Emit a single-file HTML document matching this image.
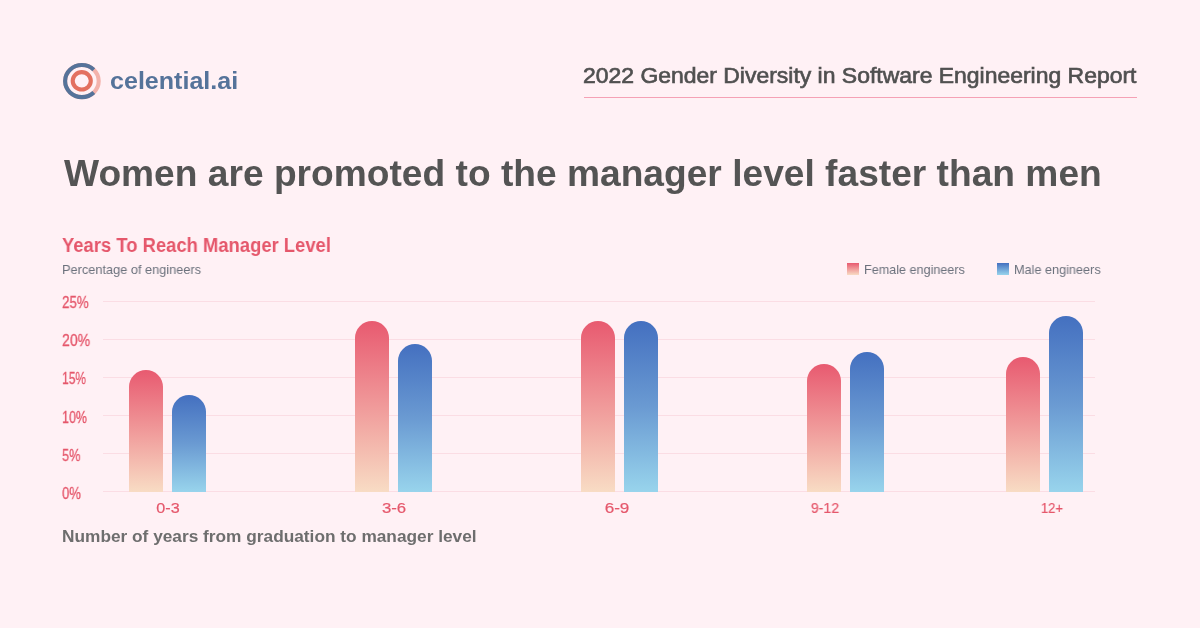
<!DOCTYPE html>
<html><head><meta charset="utf-8"><style>
html,body{margin:0;padding:0}
body{width:1200px;height:628px;background:#FFF1F5;position:relative;overflow:hidden;font-family:"Liberation Sans", sans-serif}
.t{will-change:transform}
</style></head><body>
<svg style="position:absolute;left:0;top:0" width="200" height="140" viewBox="0 0 200 140">
<ellipse cx="81.9" cy="81.05" rx="16.8" ry="16.05" fill="none" stroke="#F3B2AB" stroke-width="4.1"/>
<path d="M 93.78 69.7 A 16.8 16.05 0 1 0 93.78 92.4" fill="none" stroke="#55739A" stroke-width="4.1"/>
<ellipse cx="81.75" cy="80.85" rx="9.05" ry="8.7" fill="none" stroke="#E3705F" stroke-width="4.1"/>
</svg>
<div class="t" style="position:absolute;left:109.80px;top:70px;font-size:23px;line-height:23px;color:#55739A;font-weight:700;white-space:nowrap;transform:scaleX(1.0900);transform-origin:0 0;">celential.ai</div>
<div class="t" style="position:absolute;left:583.10px;top:65px;font-size:22px;line-height:22px;color:#505050;font-weight:400;white-space:nowrap;transform:scaleX(1.0428);transform-origin:0 0;-webkit-text-stroke:0.65px #505050;">2022 Gender Diversity in Software Engineering Report</div>
<div style="position:absolute;left:584px;top:97px;width:553px;height:1px;background:#F5A1B5"></div>
<div class="t" style="position:absolute;left:63.80px;top:155px;font-size:37px;line-height:37px;color:#545454;font-weight:700;white-space:nowrap;transform:scaleX(1.0041);transform-origin:0 0;">Women are promoted to the manager level faster than men</div>
<div class="t" style="position:absolute;left:61.80px;top:235px;font-size:20px;line-height:20px;color:#E5576B;font-weight:700;white-space:nowrap;transform:scaleX(0.9210);transform-origin:0 0;">Years To Reach Manager Level</div>
<div class="t" style="position:absolute;left:61.70px;top:263px;font-size:13.5px;line-height:13.5px;color:#6B717C;font-weight:400;white-space:nowrap;transform:scaleX(0.9460);transform-origin:0 0;">Percentage of engineers</div>
<div style="position:absolute;left:847px;top:263px;width:12px;height:12px;background:linear-gradient(#E85A70,#F8DCC4)"></div>
<div class="t" style="position:absolute;left:864.20px;top:263px;font-size:13px;line-height:13px;color:#6B717C;font-weight:400;white-space:nowrap;transform:scaleX(0.9690);transform-origin:0 0;">Female engineers</div>
<div style="position:absolute;left:997px;top:263px;width:12px;height:12px;background:linear-gradient(#4470C0,#98D4EC)"></div>
<div class="t" style="position:absolute;left:1014.20px;top:263px;font-size:13px;line-height:13px;color:#6B717C;font-weight:400;white-space:nowrap;transform:scaleX(0.9750);transform-origin:0 0;">Male engineers</div>
<div style="position:absolute;left:103px;top:301px;width:992px;height:1px;background:#FBDDE4"></div>
<div class="t" style="position:absolute;left:62.00px;top:295px;font-size:16px;line-height:16px;color:#E5576B;font-weight:400;white-space:nowrap;transform:scaleX(0.8320);transform-origin:0 0;-webkit-text-stroke:0.3px #E5576B;">25%</div>
<div style="position:absolute;left:103px;top:339px;width:992px;height:1px;background:#FBDDE4"></div>
<div class="t" style="position:absolute;left:62.00px;top:333px;font-size:16px;line-height:16px;color:#E5576B;font-weight:400;white-space:nowrap;transform:scaleX(0.8800);transform-origin:0 0;-webkit-text-stroke:0.3px #E5576B;">20%</div>
<div style="position:absolute;left:103px;top:377px;width:992px;height:1px;background:#FBDDE4"></div>
<div class="t" style="position:absolute;left:62.00px;top:371px;font-size:16px;line-height:16px;color:#E5576B;font-weight:400;white-space:nowrap;transform:scaleX(0.7500);transform-origin:0 0;-webkit-text-stroke:0.3px #E5576B;">15%</div>
<div style="position:absolute;left:103px;top:415px;width:992px;height:1px;background:#FBDDE4"></div>
<div class="t" style="position:absolute;left:62.00px;top:410px;font-size:16px;line-height:16px;color:#E5576B;font-weight:400;white-space:nowrap;transform:scaleX(0.7800);transform-origin:0 0;-webkit-text-stroke:0.3px #E5576B;">10%</div>
<div style="position:absolute;left:103px;top:453px;width:992px;height:1px;background:#FBDDE4"></div>
<div class="t" style="position:absolute;left:62.00px;top:448px;font-size:16px;line-height:16px;color:#E5576B;font-weight:400;white-space:nowrap;transform:scaleX(0.7950);transform-origin:0 0;-webkit-text-stroke:0.3px #E5576B;">5%</div>
<div style="position:absolute;left:103px;top:491px;width:992px;height:1px;background:#FBDDE4"></div>
<div class="t" style="position:absolute;left:62.00px;top:486px;font-size:16px;line-height:16px;color:#E5576B;font-weight:400;white-space:nowrap;transform:scaleX(0.8130);transform-origin:0 0;-webkit-text-stroke:0.3px #E5576B;">0%</div>
<div style="position:absolute;left:129.1px;top:369.8px;width:34.2px;height:121.80px;border-radius:17.1px 17.1px 0 0;background:linear-gradient(#E85A70,#F09A9A 50%,#F8DCC4)"></div>
<div style="position:absolute;left:171.9px;top:394.9px;width:34.2px;height:96.70px;border-radius:17.1px 17.1px 0 0;background:linear-gradient(#4470C0,#6A9AD2 50%,#98D4EC)"></div>
<div style="position:absolute;left:355.0px;top:321.0px;width:34.2px;height:170.60px;border-radius:17.1px 17.1px 0 0;background:linear-gradient(#E85A70,#F09A9A 50%,#F8DCC4)"></div>
<div style="position:absolute;left:398.0px;top:344.2px;width:34.2px;height:147.40px;border-radius:17.1px 17.1px 0 0;background:linear-gradient(#4470C0,#6A9AD2 50%,#98D4EC)"></div>
<div style="position:absolute;left:580.8px;top:321.0px;width:34.2px;height:170.60px;border-radius:17.1px 17.1px 0 0;background:linear-gradient(#E85A70,#F09A9A 50%,#F8DCC4)"></div>
<div style="position:absolute;left:624.0px;top:320.8px;width:34.2px;height:170.80px;border-radius:17.1px 17.1px 0 0;background:linear-gradient(#4470C0,#6A9AD2 50%,#98D4EC)"></div>
<div style="position:absolute;left:806.9px;top:363.7px;width:34.2px;height:127.90px;border-radius:17.1px 17.1px 0 0;background:linear-gradient(#E85A70,#F09A9A 50%,#F8DCC4)"></div>
<div style="position:absolute;left:849.9px;top:352.4px;width:34.2px;height:139.20px;border-radius:17.1px 17.1px 0 0;background:linear-gradient(#4470C0,#6A9AD2 50%,#98D4EC)"></div>
<div style="position:absolute;left:1006.0px;top:356.5px;width:34.2px;height:135.10px;border-radius:17.1px 17.1px 0 0;background:linear-gradient(#E85A70,#F09A9A 50%,#F8DCC4)"></div>
<div style="position:absolute;left:1049.1px;top:315.7px;width:34.2px;height:175.90px;border-radius:17.1px 17.1px 0 0;background:linear-gradient(#4470C0,#6A9AD2 50%,#98D4EC)"></div>
<div class="t" style="position:absolute;left:68.10px;width:200px;text-align:center;top:500px;font-size:15px;line-height:15px;color:#E5576B;font-weight:400;white-space:nowrap;transform:scaleX(1.0770);transform-origin:50% 0;-webkit-text-stroke:0.2px #E5576B;">0-3</div>
<div class="t" style="position:absolute;left:293.50px;width:200px;text-align:center;top:500px;font-size:15px;line-height:15px;color:#E5576B;font-weight:400;white-space:nowrap;transform:scaleX(1.1150);transform-origin:50% 0;-webkit-text-stroke:0.2px #E5576B;">3-6</div>
<div class="t" style="position:absolute;left:516.70px;width:200px;text-align:center;top:500px;font-size:15px;line-height:15px;color:#E5576B;font-weight:400;white-space:nowrap;transform:scaleX(1.1400);transform-origin:50% 0;-webkit-text-stroke:0.2px #E5576B;">6-9</div>
<div class="t" style="position:absolute;left:724.70px;width:200px;text-align:center;top:500px;font-size:15px;line-height:15px;color:#E5576B;font-weight:400;white-space:nowrap;transform:scaleX(0.9430);transform-origin:50% 0;-webkit-text-stroke:0.2px #E5576B;">9-12</div>
<div class="t" style="position:absolute;left:951.50px;width:200px;text-align:center;top:500px;font-size:15px;line-height:15px;color:#E5576B;font-weight:400;white-space:nowrap;transform:scaleX(0.8640);transform-origin:50% 0;-webkit-text-stroke:0.2px #E5576B;">12+</div>
<div class="t" style="position:absolute;left:61.80px;top:529px;font-size:16.7px;line-height:16.7px;color:#6E6E6E;font-weight:700;white-space:nowrap;transform:scaleX(1.0350);transform-origin:0 0;">Number of years from graduation to manager level</div>
</body></html>
